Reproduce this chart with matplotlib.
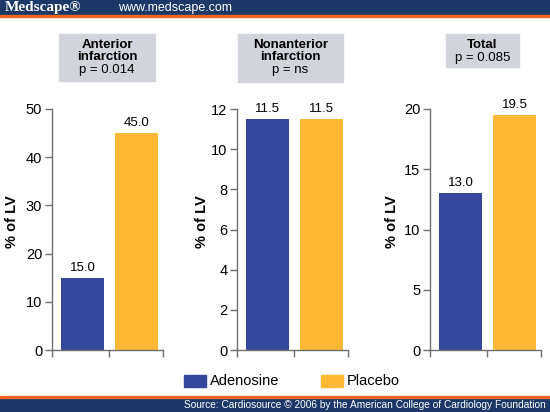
import matplotlib
matplotlib.use('Agg')
import matplotlib.pyplot as plt
from matplotlib.patches import Rectangle

plt.rcParams['font.family'] = ['Liberation Sans', 'DejaVu Sans']

# data
titles = ['Anterior\ninfarction', 'Nonanterior\ninfarction', 'Total']
p_values = ['p = 0.014', 'p = ns', 'p = 0.085']
adenosine = [15.0, 11.5, 13.0]
placebo = [45.0, 11.5, 19.5]
y_max = [50, 12, 20]
y_step = [10, 2, 5]
series_names = ['Adenosine', 'Placebo']

BLUE = '#34479b'
ORANGE = '#fdb835'
NAVY = '#1c3868'
HDR_ORANGE = '#f26522'
GRAY = '#707070'
BOX = '#d2d4dc'

W, H = 550, 412
fig = plt.figure(figsize=(5.5, 4.12), dpi=100)


def fx(x):
    return x / W


def fy(y):
    return 1 - y / H


# header / footer bands
fig.patches.append(Rectangle((0, fy(15)), 1, 15 / H, transform=fig.transFigure,
                             color=NAVY, zorder=0))
fig.patches.append(Rectangle((0, fy(17)), 1, 2 / H, transform=fig.transFigure,
                             color=HDR_ORANGE, zorder=0))
fig.patches.append(Rectangle((0, 0), 1, 14 / H, transform=fig.transFigure,
                             color=NAVY, zorder=0))
fig.patches.append(Rectangle((0, fy(398)), 1, 2.5 / H, transform=fig.transFigure,
                             color=HDR_ORANGE, zorder=0))
fig.text(fx(5), fy(7.5), 'Medscape\u00ae', color='white', family='Liberation Serif',
         fontsize=11, fontweight='bold', va='center', ha='left')
fig.text(fx(118), fy(7.5), 'www.medscape.com', color='white', fontsize=9,
         va='center', ha='left')
fig.text(fx(546), fy(405.5),
         'Source: Cardiosource \u00a9 2006 by the American College of Cardiology Foundation',
         color='white', fontsize=7.3, va='center', ha='right')

# panels: left edge of axis in px, ylabel x, title box
ax_left = [52, 237, 430]
ylab_x = [12, 202, 392]
boxes = [(59, 34, 155, 81), (238, 34, 343, 82), (446, 34, 519, 67)]
ax_w = 111
ax_top, ax_bot = 109, 350
unit = 54.0  # px per category
x0 = -30.5 / unit
x1 = x0 + ax_w / unit

for i in range(3):
    ax = fig.add_axes([fx(ax_left[i]), fy(ax_bot), ax_w / W, (ax_bot - ax_top) / H])
    vals = [adenosine[i], placebo[i]]
    bars = ax.bar([0, 1], vals, width=0.8, color=[BLUE, ORANGE], edgecolor='none')
    for b, v in zip(bars, vals):
        ax.annotate('{:.1f}'.format(v), (b.get_x() + b.get_width() / 2, v),
                    xytext=(0, 3), textcoords='offset points',
                    ha='center', va='bottom', fontsize=9.5)
    ax.set_xlim(x0, x1)
    ax.set_ylim(0, y_max[i])
    ax.set_yticks(range(0, y_max[i] + 1, y_step[i]))
    ax.set_xticks([x0, (x0 + x1) / 2 + 0.03, x1])
    ax.set_xticklabels([])
    for s in ['top', 'right']:
        ax.spines[s].set_visible(False)
    for s in ['left', 'bottom']:
        ax.spines[s].set_color(GRAY)
        ax.spines[s].set_linewidth(1)
    ax.tick_params(axis='both', direction='out', length=5, width=1, color=GRAY,
                   labelsize=10.5, pad=2)
    ax.patch.set_alpha(0)
    fig.text(fx(ylab_x[i]), fy(222), '% of LV', rotation=90, fontsize=10.5,
             fontweight='bold', ha='center', va='center')

    # title box
    bx0, by0, bx1, by1 = boxes[i]
    fig.patches.append(Rectangle((fx(bx0), fy(by1)), (bx1 - bx0) / W, (by1 - by0) / H,
                                 transform=fig.transFigure, color=BOX, zorder=0))
    cx = fx((bx0 + bx1) / 2)
    lines = titles[i].split('\n')
    y = 45
    for ln in lines:
        fig.text(cx, fy(y), ln, fontsize=9.5, fontweight='bold', ha='center', va='center')
        y += 12.5
    fig.text(cx, fy(y), p_values[i], fontsize=9.5, ha='center', va='center')

# legend
leg_x = [184, 321]
for name, col, lx in zip(series_names, [BLUE, ORANGE], leg_x):
    fig.patches.append(Rectangle((fx(lx), fy(387)), 22 / W, 12 / H,
                                 transform=fig.transFigure, color=col))
    fig.text(fx(lx + 26), fy(381), name, fontsize=10.5, ha='left', va='center')

fig.savefig('out.png', dpi=100)
